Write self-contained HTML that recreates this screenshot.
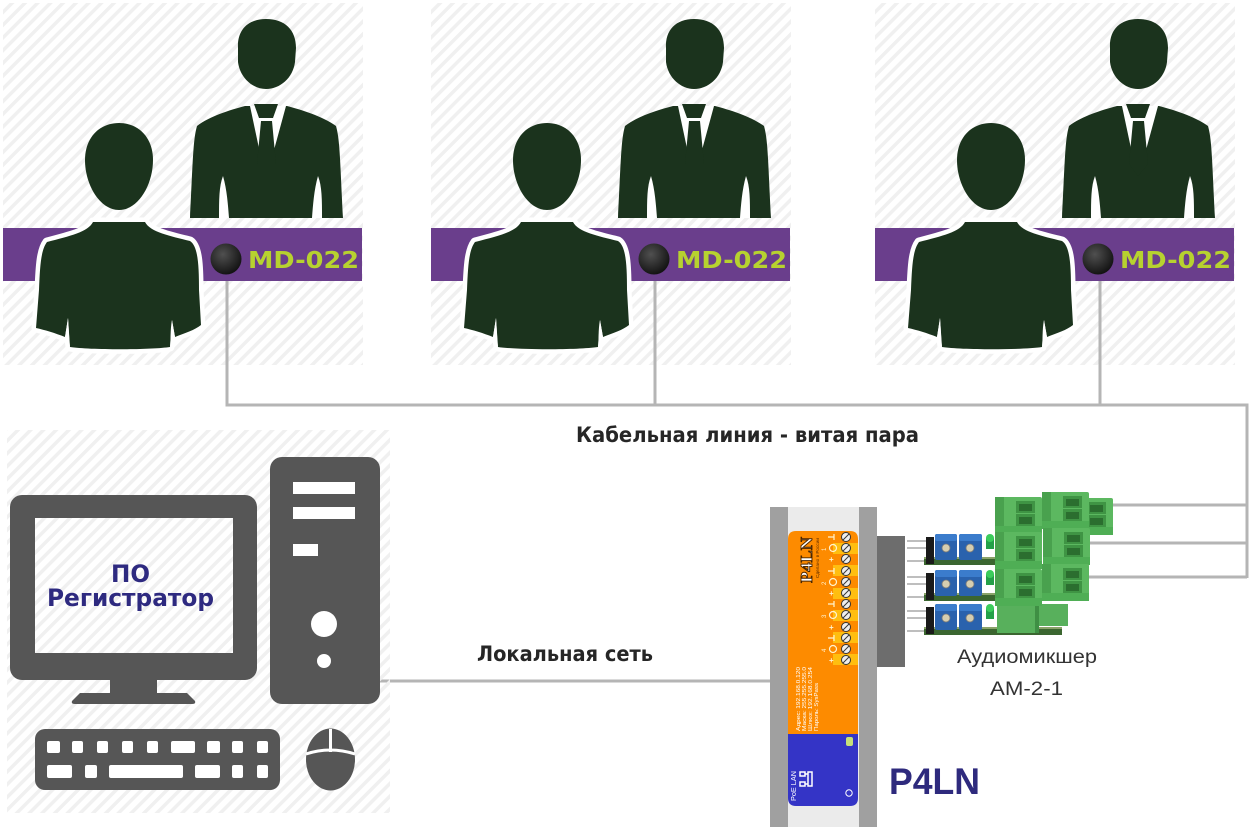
<!DOCTYPE html>
<html><head><meta charset="utf-8">
<style>
html,body{margin:0;padding:0;background:#fff;}
svg{display:block;}
</style></head>
<body>
<svg width="1250" height="827" viewBox="0 0 1250 827" xmlns="http://www.w3.org/2000/svg">
<defs>
  <pattern id="h" width="9" height="9" patternUnits="userSpaceOnUse" patternTransform="rotate(45)">
    <rect width="3.5" height="9" fill="#f0f0f0"/>
  </pattern>
  <radialGradient id="mic" cx="40%" cy="35%" r="65%">
    <stop offset="0" stop-color="#505050"/><stop offset="1" stop-color="#141414"/>
  </radialGradient>
  <g id="panel">
    <rect x="3" y="3" width="360" height="362" fill="url(#h)"/>
    <!-- standing person -->
    <path d="M266 19 C248 19 237 30 238 48 L238 62 C240 78 253 89 266 89 C280 89 293 78 295 62 L296 48 C296 30 285 19 266 19 Z" fill="#1b331d"/>
    <path d="M197 126 C210 116 230 110 245 106 L287 106 C302 110 322 116 336 126 C340 140 340 160 343 218 L190 218 C193 160 193 140 197 126 Z" fill="#1b331d"/>
    <path d="M250 106 L286 106 L268 172 L264 172 Z" fill="#fff"/>
    <path d="M254 104 L278 104 L273 118 L259 118 Z" fill="#1b331d"/>
    <path d="M261 121 L272 121 L276 164 L266 176 L257 164 Z" fill="#1b331d"/>
    <path d="M219 218 C219 200 219 186 223 176 C227 190 228 205 229 218 Z" fill="#fff"/>
    <path d="M312 218 C313 205 314 190 318 176 C322 186 322 200 322 218 Z" fill="#fff"/>
    <!-- purple bar -->
    <rect x="3" y="228" width="359" height="53" fill="#6a3e8c"/>
    <!-- sitting person -->
    <path d="M119 123 C100 123 85 137 85 160 C85 185 100 210 119 210 C138 210 153 185 153 160 C153 137 138 123 119 123 Z" fill="#1b331d"/>
    <path d="M93 222 L145 222 C150 232 170 236 190 241 C198 246 199 265 199 290 L201 325 C195 330 185 333 175 337 L172 320 C170 330 171 340 170 347 C150 350 90 350 70 347 C69 340 69 330 68 318 L65 337 C55 333 45 330 36 328 L39 290 C40 265 41 250 47 242 C70 236 88 232 93 222 Z" fill="#1b331d" stroke="#fff" stroke-width="9" stroke-linejoin="round" paint-order="stroke"/>
    <path d="M68 318 L65 337 L70 347 Z M172 320 L175 337 L170 347 Z" fill="#fff"/>
    <!-- mic -->
    <circle cx="226" cy="259" r="15.5" fill="url(#mic)"/>
  </g>
  <g id="tb">
    <rect x="0" y="0" width="47" height="37" rx="2" fill="#5cb860"/>
    <rect x="0" y="0" width="9" height="37" fill="#49a14e"/>
    <rect x="0" y="29" width="47" height="8" fill="#4fae55"/>
    <rect x="21" y="4" width="19" height="12" fill="#3f9444"/>
    <rect x="24" y="7" width="13" height="7" fill="#2b6e2f"/>
    <rect x="21" y="17" width="19" height="12" fill="#3f9444"/>
    <rect x="24" y="20" width="13" height="7" fill="#2b6e2f"/>
  </g>
  <g id="board">
    <g stroke="#a9a9a9" stroke-width="1.6">
      <line x1="907" y1="541" x2="930" y2="541"/>
      <line x1="907" y1="548" x2="930" y2="548"/>
      <line x1="907" y1="561" x2="930" y2="561"/>
    </g>
    <rect x="924" y="557" width="78" height="8" fill="#3b6630"/>
    <rect x="924" y="557" width="78" height="2" fill="#8aa36a"/>
    <rect x="926" y="537" width="8" height="27" fill="#1a1a1a"/>
    <rect x="935" y="534" width="22" height="26" rx="2" fill="#2a62ad"/>
    <rect x="935" y="534" width="22" height="7" rx="2" fill="#3b7ccc"/>
    <circle cx="946" cy="548" r="4" fill="#d6ceb0" stroke="#7a7a7a" stroke-width="0.8"/>
    <rect x="959" y="534" width="23" height="26" rx="2" fill="#2a62ad"/>
    <rect x="959" y="534" width="23" height="7" rx="2" fill="#3b7ccc"/>
    <circle cx="970" cy="548" r="4" fill="#d6ceb0" stroke="#7a7a7a" stroke-width="0.8"/>
    <rect x="986" y="538" width="8" height="11" fill="#24a048"/>
    <circle cx="990" cy="538" r="4" fill="#3ccc5c"/>
  </g>
</defs>

<!-- panels -->
<use href="#panel"/>
<use href="#panel" x="428"/>
<use href="#panel" x="872"/>
<g font-family="'DejaVu Sans','Liberation Sans',sans-serif" font-weight="bold" font-size="23" fill="#b7d22f">
  <text x="248" y="268" textLength="111" lengthAdjust="spacingAndGlyphs">MD-022</text>
  <text x="676" y="268" textLength="111" lengthAdjust="spacingAndGlyphs">MD-022</text>
  <text x="1120" y="268" textLength="111" lengthAdjust="spacingAndGlyphs">MD-022</text>
</g>

<!-- cable lines -->
<g stroke="#b5b5b5" stroke-width="3" fill="none">
  <polyline points="227,281 227,405 1247,405 1247,578"/>
  <line x1="655" y1="281" x2="655" y2="405"/>
  <line x1="1100" y1="281" x2="1100" y2="405"/>
  <line x1="1108" y1="505" x2="1247" y2="505"/>
  <line x1="1090" y1="543" x2="1247" y2="543"/>
  <line x1="1088" y1="577" x2="1247" y2="577"/>
  <line x1="380" y1="681" x2="771" y2="681"/>
</g>

<text x="576" y="442" font-family="'DejaVu Sans','Liberation Sans',sans-serif" font-weight="bold" font-size="21" fill="#262626" textLength="343" lengthAdjust="spacingAndGlyphs">Кабельная линия - витая пара</text>
<text x="477" y="661" font-family="'DejaVu Sans','Liberation Sans',sans-serif" font-weight="bold" font-size="21" fill="#262626" textLength="176" lengthAdjust="spacingAndGlyphs">Локальная сеть</text>

<!-- computer -->
<rect x="7" y="430" width="383" height="383" fill="url(#h)"/>
<rect x="10" y="495" width="247" height="185" rx="12" fill="#565656"/>
<rect x="35" y="518" width="198" height="135" fill="#fff"/>
<rect x="35" y="518" width="198" height="135" fill="url(#h)"/>
<rect x="110" y="678" width="47" height="17" fill="#565656"/>
<path d="M80 693 L187 693 L195 701 Q196 704 192 704 L75 704 Q71 704 72 701 Z" fill="#565656"/>
<rect x="270" y="457" width="110" height="247" rx="12" fill="#565656"/>
<rect x="293" y="482" width="62" height="12" fill="#fff"/>
<rect x="293" y="507" width="62" height="12" fill="#fff"/>
<rect x="293" y="544" width="25" height="12" fill="#fff"/>
<circle cx="324" cy="624" r="13" fill="#fff"/>
<circle cx="324" cy="661" r="7" fill="#fff"/>
<rect x="35" y="729" width="245" height="61" rx="10" fill="#565656"/>
<g fill="#fff">
  <rect x="47" y="741" width="13" height="12" rx="2"/>
  <rect x="72" y="741" width="11" height="12" rx="2"/>
  <rect x="97" y="741" width="11" height="12" rx="2"/>
  <rect x="122" y="741" width="11" height="12" rx="2"/>
  <rect x="147" y="741" width="11" height="12" rx="2"/>
  <rect x="171" y="741" width="24" height="12" rx="2"/>
  <rect x="207" y="741" width="13" height="12" rx="2"/>
  <rect x="232" y="741" width="11" height="12" rx="2"/>
  <rect x="257" y="741" width="11" height="12" rx="2"/>
  <rect x="47" y="765" width="25" height="13" rx="2"/>
  <rect x="85" y="765" width="12" height="13" rx="2"/>
  <rect x="109" y="765" width="74" height="13" rx="2"/>
  <rect x="195" y="765" width="25" height="13" rx="2"/>
  <rect x="232" y="765" width="11" height="13" rx="2"/>
  <rect x="257" y="765" width="11" height="13" rx="2"/>
</g>
<ellipse cx="330.5" cy="759.5" rx="24.5" ry="31" fill="#565656"/>
<path d="M330.5 729 L330.5 752 M306 754 Q330 746 355 754" stroke="#fff" stroke-width="3" fill="none"/>
<g font-family="'DejaVu Sans','Liberation Sans',sans-serif" font-weight="bold" font-size="24" fill="#2e2a80">
  <text x="111" y="582" textLength="39" lengthAdjust="spacingAndGlyphs">ПО</text>
  <text x="47" y="606" textLength="167" lengthAdjust="spacingAndGlyphs">Регистратор</text>
</g>

<!-- P4LN device rail -->
<rect x="770" y="507" width="107" height="320" fill="#ebebeb"/>
<rect x="770" y="507" width="18" height="320" fill="#a0a0a0"/>
<rect x="859" y="507" width="18" height="320" fill="#a0a0a0"/>
<rect x="877" y="536" width="28" height="131" fill="#6d6d6d"/>
<path d="M788 539 Q788 531 796 531 L850 531 Q858 531 858 539 L858 735 L788 735 Z" fill="#fd8b00"/>
<path d="M788 734 L858 734 L858 798 Q858 806 850 806 L796 806 Q788 806 788 798 Z" fill="#3434c6"/>
<g fill="#ffbe10">
  <rect x="833" y="543" width="25" height="11"/>
  <rect x="833" y="565" width="25" height="11"/>
  <rect x="833" y="588" width="25" height="11"/>
  <rect x="833" y="610" width="25" height="11"/>
  <rect x="833" y="632" width="25" height="11"/>
  <rect x="833" y="654" width="25" height="11"/>
</g>
<g fill="#eeeeee" stroke="#333" stroke-width="1">
  <circle cx="846" cy="537" r="4.5"/><circle cx="846" cy="548" r="4.5"/><circle cx="846" cy="559" r="4.5"/>
  <circle cx="846" cy="571" r="4.5"/><circle cx="846" cy="582" r="4.5"/><circle cx="846" cy="593" r="4.5"/>
  <circle cx="846" cy="604" r="4.5"/><circle cx="846" cy="615" r="4.5"/><circle cx="846" cy="627" r="4.5"/>
  <circle cx="846" cy="638" r="4.5"/><circle cx="846" cy="649" r="4.5"/><circle cx="846" cy="660" r="4.5"/>
</g>
<g stroke="#333" stroke-width="1">
  <line x1="843" y1="540" x2="849" y2="534"/><line x1="843" y1="551" x2="849" y2="545"/><line x1="843" y1="562" x2="849" y2="556"/>
  <line x1="843" y1="574" x2="849" y2="568"/><line x1="843" y1="585" x2="849" y2="579"/><line x1="843" y1="596" x2="849" y2="590"/>
  <line x1="843" y1="607" x2="849" y2="601"/><line x1="843" y1="618" x2="849" y2="612"/><line x1="843" y1="630" x2="849" y2="624"/>
  <line x1="843" y1="641" x2="849" y2="635"/><line x1="843" y1="652" x2="849" y2="646"/><line x1="843" y1="663" x2="849" y2="657"/>
</g>
<g stroke="#fff3d0" stroke-width="1.2" fill="none">
  <path d="M828 537 h6 M834 534 v6"/><circle cx="833" cy="548" r="3.5"/>
  <path d="M828 571 h6 M834 568 v6"/><circle cx="833" cy="582" r="3.5"/>
  <path d="M828 604 h6 M834 601 v6"/><circle cx="833" cy="615" r="3.5"/>
  <path d="M828 638 h6 M834 635 v6"/><circle cx="833" cy="649" r="3.5"/>
</g>
<g font-family="'Liberation Sans',sans-serif" font-size="8" fill="#fff3d0" font-weight="bold">
  <text x="829" y="562">+</text><text x="829" y="596">+</text><text x="829" y="630">+</text><text x="829" y="663">+</text>
</g>
<g font-family="'Liberation Sans',sans-serif" font-size="6" fill="#fff3d0">
  <text transform="translate(826,551) rotate(-90)">1</text>
  <text transform="translate(826,585) rotate(-90)">2</text>
  <text transform="translate(826,618) rotate(-90)">3</text>
  <text transform="translate(826,652) rotate(-90)">4</text>
</g>
<text transform="translate(812,583) rotate(-90)" font-family="'Liberation Serif',serif" font-weight="bold" font-size="17" fill="#fff" stroke="#4a2600" stroke-width="0.9" textLength="46" lengthAdjust="spacingAndGlyphs">P4LN</text>
<text transform="translate(819,578) rotate(-90)" font-family="'Liberation Sans',sans-serif" font-size="4.5" fill="#5a2d00" textLength="40" lengthAdjust="spacingAndGlyphs">Сделано в России</text>
<g font-family="'Liberation Sans',sans-serif" font-size="5.5" fill="#fff">
  <text transform="translate(800,731) rotate(-90)" textLength="64" lengthAdjust="spacingAndGlyphs">Адрес: 192.168.0.120</text>
  <text transform="translate(806,731) rotate(-90)" textLength="64" lengthAdjust="spacingAndGlyphs">Маска: 255.255.255.0</text>
  <text transform="translate(812,731) rotate(-90)" textLength="64" lengthAdjust="spacingAndGlyphs">Шлюз: 192.168.0.254</text>
  <text transform="translate(818,731) rotate(-90)" textLength="48" lengthAdjust="spacingAndGlyphs">Пароль: SysPass</text>
</g>
<rect x="846" y="737" width="7" height="9" rx="2" fill="#c6e07a"/>
<text transform="translate(796,801) rotate(-90)" font-family="'Liberation Sans',sans-serif" font-size="7" fill="#fff" textLength="30" lengthAdjust="spacingAndGlyphs">PoE LAN</text>
<g fill="none" stroke="#fff" stroke-width="1.5">
  <rect x="800" y="772" width="5" height="4"/><rect x="800" y="782" width="5" height="4"/>
  <rect x="808" y="772" width="4" height="14"/>
  <path d="M805 774 h3 M805 784 h3"/>
</g>
<circle cx="849" cy="793" r="3.2" fill="none" stroke="#fff" stroke-width="1"/>
<text x="889" y="794" font-family="'Liberation Sans',sans-serif" font-weight="bold" font-size="37" fill="#2e2a7d" textLength="91" lengthAdjust="spacingAndGlyphs">P4LN</text>

<!-- mixer boards -->
<use href="#board"/>
<use href="#board" y="36"/>
<g transform="translate(0,70)">
  <g stroke="#a9a9a9" stroke-width="1.6">
    <line x1="907" y1="541" x2="930" y2="541"/><line x1="907" y1="548" x2="930" y2="548"/><line x1="907" y1="561" x2="930" y2="561"/>
  </g>
  <rect x="924" y="557" width="138" height="8" fill="#3b6630"/>
  <rect x="924" y="557" width="138" height="2" fill="#8aa36a"/>
  <rect x="926" y="537" width="8" height="27" fill="#1a1a1a"/>
  <rect x="935" y="534" width="22" height="26" rx="2" fill="#2a62ad"/>
  <rect x="935" y="534" width="22" height="7" rx="2" fill="#3b7ccc"/>
  <circle cx="946" cy="548" r="4" fill="#d6ceb0" stroke="#7a7a7a" stroke-width="0.8"/>
  <rect x="959" y="534" width="23" height="26" rx="2" fill="#2a62ad"/>
  <rect x="959" y="534" width="23" height="7" rx="2" fill="#3b7ccc"/>
  <circle cx="970" cy="548" r="4" fill="#d6ceb0" stroke="#7a7a7a" stroke-width="0.8"/>
  <rect x="986" y="538" width="8" height="11" fill="#24a048"/>
  <circle cx="990" cy="538" r="4" fill="#3ccc5c"/>
</g>
<!-- terminal blocks -->
<use href="#tb" x="1066" y="498"/>
<use href="#tb" x="1042" y="492"/>
<use href="#tb" x="995" y="497"/>
<use href="#tb" x="1043" y="528"/>
<use href="#tb" x="995" y="532"/>
<rect x="997" y="604" width="40" height="29" fill="#58b05c"/>
<rect x="1037" y="604" width="31" height="22" fill="#58b05c"/>
<rect x="1035" y="604" width="4" height="29" fill="#3f8f44"/>
<use href="#tb" x="1042" y="564"/>
<use href="#tb" x="995" y="569"/>

<g font-family="'Liberation Sans','DejaVu Sans',sans-serif" font-size="19" fill="#333">
  <text x="957" y="663" textLength="140" lengthAdjust="spacingAndGlyphs">Аудиомикшер</text>
  <text x="990" y="695" textLength="73" lengthAdjust="spacingAndGlyphs">АМ-2-1</text>
</g>
</svg>
</body></html>
